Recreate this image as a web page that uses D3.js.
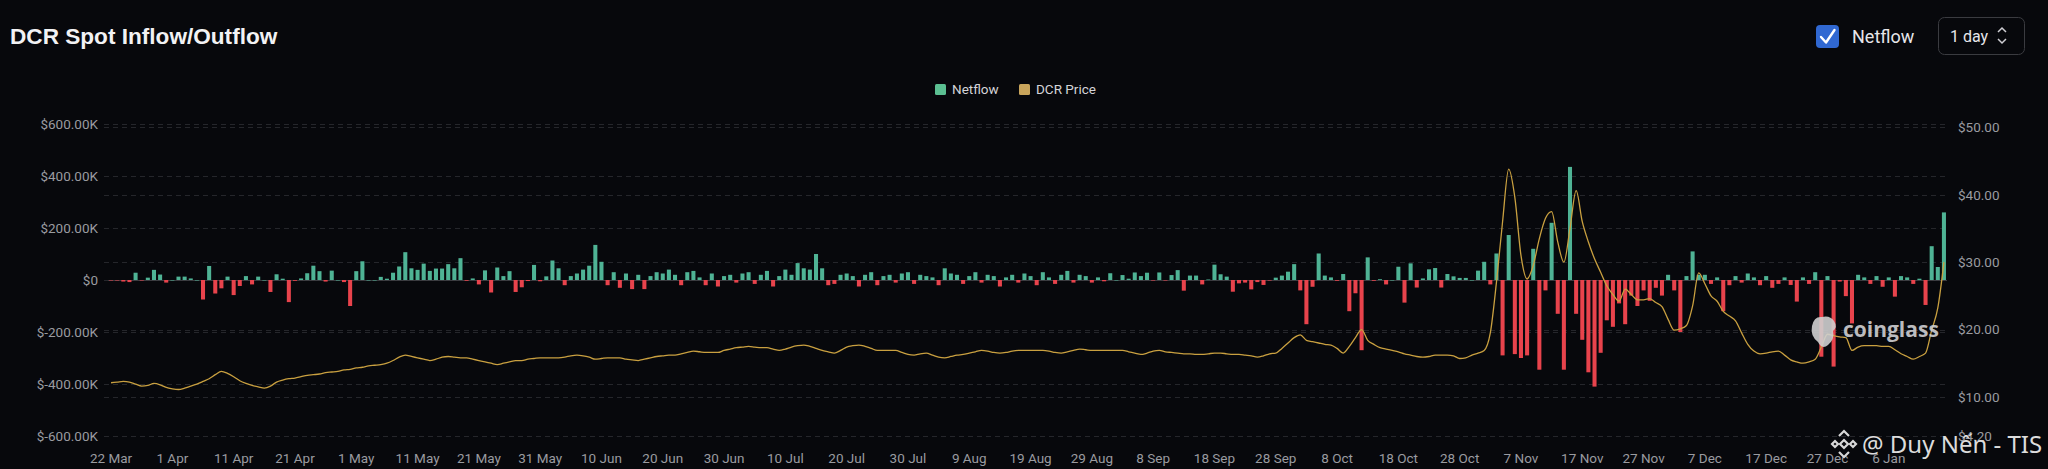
<!DOCTYPE html>
<html><head><meta charset="utf-8">
<script src="https://cdn.jsdelivr.net/npm/d3@7"></script>
<style>
html,body{margin:0;padding:0;background:#07080c;}
svg{display:block;}
</style></head>
<body>
<svg id="chart" width="2048" height="469"></svg>
<script>
// ---- data ----
const startDay = "2024-03-22";
// daily netflow in USD thousands
const netflow = [
-1,-1,-6,-8,28,-2,9,39,21,-10,0,13,13,6,0,-75,54,-52,-32,13,
-58,-23,15,-17,13,0,-46,22,5,-85,-3,6,26,55,34,-6,36,0,-8,-100,
34,72,0,0,12,5,28,52,107,45,39,63,35,44,44,61,45,84,-3,6,
-17,37,-48,48,15,34,-46,-28,-4,58,-5,14,75,45,-20,15,25,40,55,135,
70,-20,30,-30,25,-35,20,-35,15,30,25,40,20,-20,30,35,10,-20,25,-25,
15,20,-10,25,30,-15,20,35,-25,15,40,20,65,45,40,100,45,-20,-15,20,
25,15,-25,20,30,-20,15,20,-10,25,30,-15,20,15,10,-20,45,25,20,-15,
15,30,-10,20,15,-25,10,20,-10,25,15,-20,30,10,-15,20,35,-10,20,15,
-10,10,-5,26,0,19,5,29,15,28,-2,29,-2,19,38,-41,17,17,-17,2,
59,22,13,-45,-13,-10,-36,-8,-19,-2,9,17,32,61,-40,-170,-26,102,17,10,
-3,23,-120,-51,-270,87,-3,3,-17,0,51,-87,64,-29,6,41,46,-29,23,14,
8,8,0,36,70,-17,102,-290,173,-285,-300,-290,120,-345,-40,220,-130,-345,435,-130,
-230,-355,-410,-280,-155,-180,-90,-170,-60,-100,-40,-80,-30,-60,20,-40,-200,15,110,20,
20,-15,10,-120,-20,15,-10,25,10,-20,15,-30,-15,10,-19,-83,10,-15,30,-295,
15,-333,-6,-62,-167,20,10,-15,15,-26,10,-64,15,10,-15,5,-96,130,50,260
];
// daily DCR price in USD
const price = [
12.1,12.2,12.3,12.2,11.9,11.6,11.7,12.0,11.8,11.4,11.2,11.1,11.3,11.6,11.9,12.3,12.7,13.3,13.8,13.5,
13.0,12.4,12.0,11.7,11.5,11.3,11.6,12.2,12.5,12.7,12.8,13.0,13.2,13.3,13.4,13.6,13.7,13.8,14.0,14.1,
14.3,14.4,14.6,14.7,14.8,15.0,15.4,15.9,16.2,16.0,15.8,15.6,15.4,15.6,15.9,16.0,15.9,15.8,15.8,15.6,
15.4,15.2,15.0,14.8,15.0,15.2,15.4,15.4,15.6,15.7,15.8,15.8,15.8,15.8,15.9,16.1,16.2,16.1,15.9,15.6,
15.7,15.8,15.8,15.8,15.6,15.5,15.4,15.6,15.8,16.0,16.1,16.2,16.2,16.4,16.6,16.8,16.7,16.6,16.6,16.6,
16.9,17.1,17.3,17.4,17.5,17.4,17.3,17.3,17.1,16.9,17.1,17.4,17.6,17.7,17.5,17.2,16.9,16.7,16.5,16.9,
17.4,17.6,17.7,17.5,17.2,16.9,16.9,16.9,16.9,16.6,16.3,16.2,16.4,16.5,16.2,15.9,15.8,16.0,16.2,16.3,
16.5,16.7,16.9,16.8,16.6,16.5,16.6,16.8,16.9,16.9,16.9,16.9,16.9,16.8,16.6,16.5,16.7,16.9,17.1,17.0,
16.9,16.9,16.9,16.9,16.9,16.9,16.7,16.5,16.3,16.5,16.8,16.9,16.7,16.6,16.5,16.4,16.4,16.3,16.3,16.4,
16.5,16.5,16.4,16.3,16.3,16.2,16.1,15.9,16.1,16.4,16.5,17.2,18.0,18.8,19.2,18.4,18.2,18.0,17.8,17.7,
17.2,16.5,17.5,18.8,20.0,18.4,17.8,17.3,17.1,16.9,16.7,16.4,16.2,16.0,15.9,16.0,16.2,16.2,16.2,16.1,
15.7,15.8,16.2,16.5,16.9,19.5,27.0,36.0,43.8,39.6,31.0,27.5,29.5,33.5,36.5,37.5,33.0,30.0,35.0,40.6,
36.0,33.0,30.5,28.5,26.5,25.2,24.2,26.0,25.2,24.4,24.4,24.6,24.0,23.4,21.5,19.9,20.1,20.6,23.5,28.4,
26.8,25.0,24.2,22.7,22.0,21.3,19.5,17.8,16.8,16.4,16.5,16.7,16.8,16.2,15.5,15.2,15.0,15.2,15.6,17.4,
19.3,19.1,18.9,18.8,16.9,17.4,17.6,17.6,17.6,17.5,17.5,17.0,16.4,16.0,15.6,16.0,16.5,19.9,23.2,30.0
];
const xTickLabels = ["22 Mar","1 Apr","11 Apr","21 Apr","1 May","11 May","21 May","31 May","10 Jun","20 Jun",
"30 Jun","10 Jul","20 Jul","30 Jul","9 Aug","19 Aug","29 Aug","8 Sep","18 Sep","28 Sep",
"8 Oct","18 Oct","28 Oct","7 Nov","17 Nov","27 Nov","7 Dec","17 Dec","27 Dec","6 Jan"];
const leftTicks = [600, 400, 200, 0, -200, -400, -600];
const rightTicks = [50, 40, 30, 20, 10, 4.2];
const legendItems = [{name:"Netflow", color:"#5bbf92"},{name:"DCR Price", color:"#c9a55c"}];

// ---- layout ----
const svg = d3.select("#chart");
const W = 2048, H = 469;
const plotL = 108, plotR = 1947, plotT = 124, plotB = 436;
svg.append("rect").attr("width",W).attr("height",H).attr("fill","#07080c");

const x = d3.scaleBand().domain(d3.range(netflow.length)).range([plotL, plotR]).paddingInner(0.34).paddingOuter(0.17);
const xc = i => x(i) + x.bandwidth()/2;
const yL = d3.scaleLinear().domain([-600, 600]).range([plotB, plotT]);
const yR = d3.scaleLinear().domain([4.2, 50.5]).range([plotB, plotT]);

const axisFont = "Roboto, 'DejaVu Sans', sans-serif";
const gridColor = "#25262b";

// grid
const grid = svg.append("g");
leftTicks.forEach(v => {
  grid.append("line").attr("x1", plotL-4).attr("x2", plotR).attr("y1", Math.round(yL(v))+0.5).attr("y2", Math.round(yL(v))+0.5)
    .attr("stroke", gridColor).attr("stroke-width",1).attr("stroke-dasharray","5,4");
});
rightTicks.forEach(v => {
  grid.append("line").attr("x1", plotL-4).attr("x2", plotR).attr("y1", Math.round(yR(v))+0.5).attr("y2", Math.round(yR(v))+0.5)
    .attr("stroke", gridColor).attr("stroke-width",1).attr("stroke-dasharray","5,4");
});

// left axis
const fmtK = v => v === 0 ? "$0" : "$" + v.toFixed(2) + "K";
const gL = svg.append("g").attr("transform", `translate(${plotL-10},0)`)
  .call(d3.axisLeft(yL).tickValues(leftTicks).tickFormat(fmtK).tickSize(0).tickPadding(0));
gL.select(".domain").remove();
gL.selectAll("text").attr("fill","#9a9ba0").attr("font-family",axisFont).attr("font-size",13.5);

// right axis
const gR = svg.append("g").attr("transform", `translate(${plotR+11},0)`)
  .call(d3.axisRight(yR).tickValues(rightTicks).tickFormat(v => "$" + v.toFixed(2)).tickSize(0).tickPadding(0));
gR.select(".domain").remove();
gR.selectAll("text").attr("fill","#9a9ba0").attr("font-family",axisFont).attr("font-size",13.5);

// zero line
svg.append("line").attr("x1", plotL).attr("x2", plotR).attr("y1", Math.round(yL(0))+0.5).attr("y2", Math.round(yL(0))+0.5)
  .attr("stroke","#3a3b40").attr("stroke-width",1);

// bottom axis labels
const tickIdx = xTickLabels.map((_, k) => k*10);
const gX = svg.append("g").attr("transform", `translate(0,${plotB+12})`)
  .call(d3.axisBottom(x).tickValues(tickIdx).tickFormat((d) => xTickLabels[d/10]).tickSize(0).tickPadding(5));
gX.select(".domain").remove();
gX.selectAll("text").attr("fill","#9a9ba0").attr("font-family",axisFont).attr("font-size",13.5);

// bars
svg.append("g").selectAll("rect").data(netflow).join("rect")
  .attr("x", (d,i) => x(i))
  .attr("width", x.bandwidth())
  .attr("y", d => d >= 0 ? yL(d) : yL(0))
  .attr("height", d => Math.max(0.5, Math.abs(yL(d) - yL(0))))
  .attr("fill", d => d >= 0 ? "#4fb395" : "#e8434c");

// price line
const line = d3.line().x((d,i) => xc(i)).y(d => yR(d)).curve(d3.curveMonotoneX);
svg.append("path").datum(price).attr("d", line).attr("fill","none")
  .attr("stroke","#c9a040").attr("stroke-width",1.3);

// legend
const lg = svg.append("g").attr("transform","translate(935,84)");
let lx = 0;
legendItems.forEach((it, k) => {
  lg.append("rect").attr("x", lx).attr("y", 0).attr("width", 11).attr("height", 11).attr("rx",1.5).attr("fill", it.color);
  lg.append("text").attr("x", lx+17).attr("y", 10).attr("fill","#d4d4d8")
    .attr("font-family",axisFont).attr("font-size",13.5).text(it.name);
  lx += k === 0 ? 84 : 0;
});

// title
svg.append("text").attr("x",10).attr("y",44).attr("fill","#f2f2f4")
  .attr("font-family","'Liberation Sans', Arial, sans-serif").attr("font-weight","bold").attr("font-size",22.6)
  .text("DCR Spot Inflow/Outflow");

// header controls
const hc = svg.append("g");
hc.append("rect").attr("x",1816).attr("y",25).attr("width",23).attr("height",23).attr("rx",4).attr("fill","#3068d2");
hc.append("path").attr("d","M1821,37 L1826,42.5 L1834.5,30").attr("fill","none").attr("stroke","#fff").attr("stroke-width",2.4).attr("stroke-linecap","round").attr("stroke-linejoin","round");
hc.append("text").attr("x",1852).attr("y",43).attr("fill","#e6e6ea").attr("font-family",axisFont).attr("font-size",18).text("Netflow");
hc.append("rect").attr("x",1938.5).attr("y",17.5).attr("width",86).attr("height",37).attr("rx",6).attr("fill","none").attr("stroke","#3a3b40");
hc.append("text").attr("x",1950).attr("y",42).attr("fill","#e6e6ea").attr("font-family",axisFont).attr("font-size",16).text("1 day");
hc.append("path").attr("d","M1998,32 L2002,28 L2006,32 M1998,39 L2002,43 L2006,39").attr("fill","none").attr("stroke","#cfcfd4").attr("stroke-width",1.5);

// watermarks
const wm = svg.append("g");
wm.append("path").attr("d","M1812,326 q2,-10 10,-9 q8,-2 12,4 q4,6 -1,10 q2,8 -5,14 q-6,5 -10,-3 q-8,-6 -6,-16 z").attr("fill","#cfcfcf").attr("opacity",0.9);
wm.append("text").attr("x",1843).attr("y",337).attr("fill","#cfcfd2").attr("opacity",0.9)
  .attr("font-family","'Open Sans', sans-serif").attr("font-weight","bold").attr("font-size",21).text("coinglass");
const bx = 1844, by = 444;
wm.append("g").attr("fill","none").attr("stroke","#d8d8d8").attr("stroke-width",2.2)
  .selectAll("path").data([
    `M${bx-5},${by-8} L${bx},${by-13} L${bx+5},${by-8}`,
    `M${bx-5},${by+8} L${bx},${by+13} L${bx+5},${by+8}`,
    `M${bx-12},${by} L${bx-9},${by-3} L${bx-6},${by} L${bx-9},${by+3} Z`,
    `M${bx+12},${by} L${bx+9},${by-3} L${bx+6},${by} L${bx+9},${by+3} Z`,
    `M${bx},${by-4} L${bx+4},${by} L${bx},${by+4} L${bx-4},${by} Z`
  ]).join("path").attr("d", d => d);
wm.append("text").attr("x",1862).attr("y",453).attr("fill","#dcdcdc")
  .attr("font-family","'Noto Sans', sans-serif").attr("font-size",24).text("@ Duy Nến - TIS");
</script>
</body></html>
